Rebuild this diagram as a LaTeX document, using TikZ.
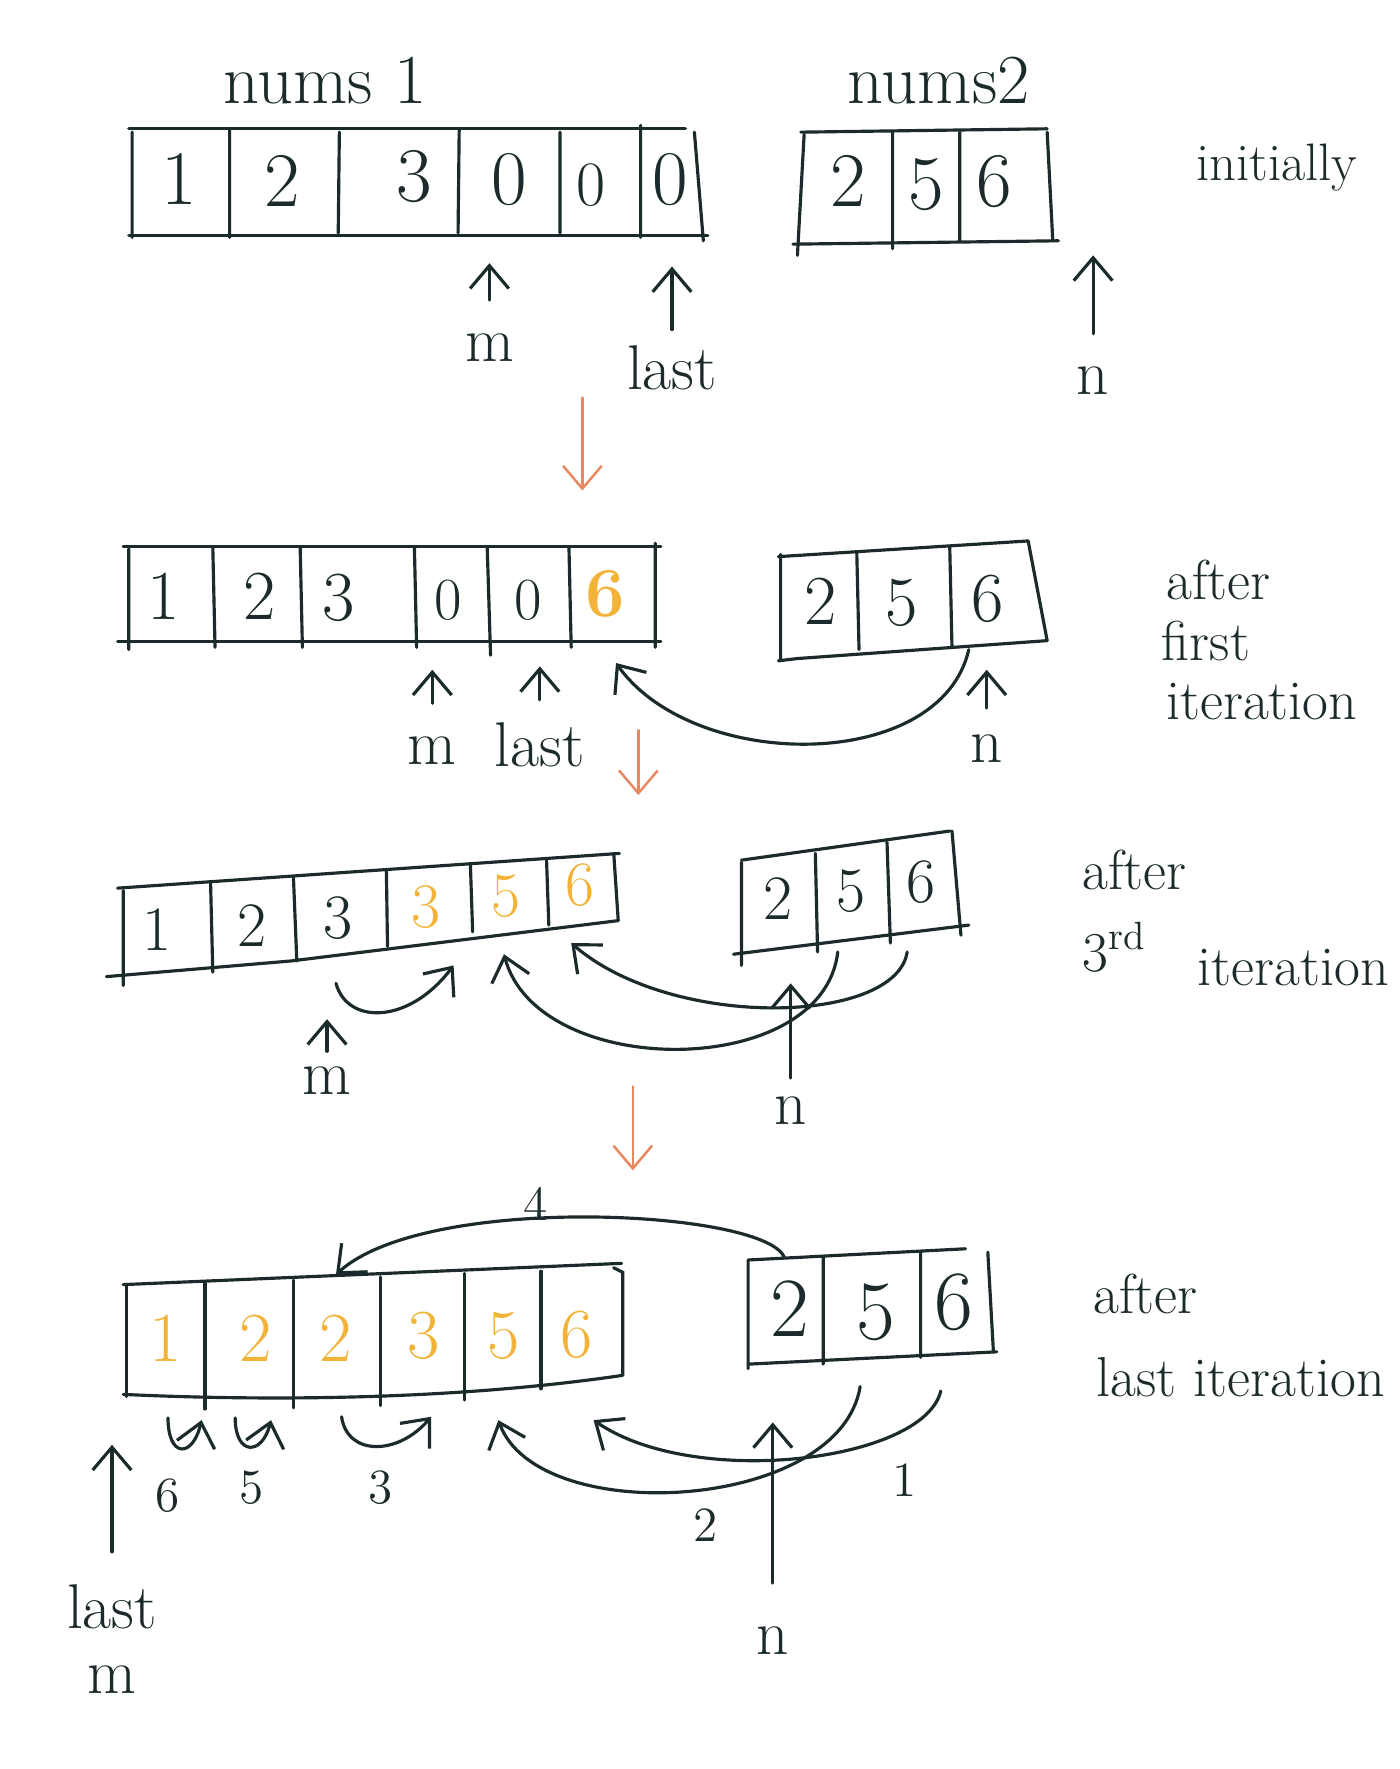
\documentclass[tikz,border=0pt]{standalone}
\usepackage{xcolor}
\usetikzlibrary{arrows.meta}
\definecolor{ink}{HTML}{1B2A2A}
\definecolor{flow}{HTML}{E9875F}
\definecolor{moved}{HTML}{F2B338}

\tikzset{
  digit/.style={font=\fontsize{#1}{#1}\selectfont, inner sep=0pt},
  digit/.default=20,
  newdigit/.style={digit=#1, text=moved},
  newdigit/.default=20,
  head/.style={font=\fontsize{20}{24}\selectfont},
  ptr/.style={font=\fontsize{18}{22}\selectfont, inner sep=1pt},
  note/.style={font=\fontsize{16}{19}\selectfont, anchor=west, inner sep=0pt},
  tally/.style={font=\fontsize{14}{16}\selectfont, inner sep=1pt},
  stagearrow/.style={flow, line width=0.7pt, ->}
}

\begin{document}
\begin{tikzpicture}[>={Straight Barb[length=6.5pt,width=11pt]}, x=0.112mm, y=-0.112mm, ink, line width=0.9pt, line cap=round]
		\fill[white] (0,0) rectangle (1250,1579.5);
		\useasboundingbox (0,0) rectangle (1250,1579.5);

		% ---------- initially ----------
		\node[head] (h1) at (290,72) {nums 1};
		\node[head] (h2) at (838,72) {nums2};
		\node[note, anchor=center, font=\fontsize{15}{18}\selectfont] (t1) at (1140,150) {initially};

		% nums1 box
		\draw (115,115) -- (612,115) (115,210) -- (632,210);
		\draw (118,118) -- (118,212) (205,115) -- (205,212) (303,118) -- (302,208) (410,115) -- (409,208)
		      (500,118) -- (500,208) (572,112) -- (572,212) (620,118) -- (628,215);
		\node[digit=22] (s1a1) at (160,160) {1};
		\node[digit=22] (s1a2) at (252,162) {2};
		\node[digit=22] (s1a3) at (370,158) {3};
		\node[digit=22] (s1a4) at (455,160) {0};
		\node[digit=18] (s1a5) at (528,165) {0};
		\node[digit=22] (s1a6) at (598,160) {0};

		% nums2 box
		\draw (715,118) -- (935,115) (708,218) -- (945,215);
		\draw (718,120) -- (712,228) (797,118) -- (797,222) (857,118) -- (857,215) (935,118) -- (940,215);
		\node[digit=22] (s1b1) at (757,162) {2};
		\node[digit=22] (s1b2) at (827,165) {5};
		\node[digit=22] (s1b3) at (888,162) {6};

		% pointers
		\node[ptr] (m1) at (437,310) {m};
		\coordinate (m1t) at (437,235);
		\draw[->, shorten <=8pt] (m1) -- (m1t);
		\node[ptr] (l1) at (600,328) {last};
		\coordinate (l1t) at (600,238);
		\draw[->, shorten <=3pt] (l1) -- (l1t);
		\node[ptr] (n1) at (976,340) {n};
		\coordinate (n1t) at (976,228);
		\draw[->, shorten <=8pt] (n1) -- (n1t);

		\coordinate (f1a) at (520,355);
		\coordinate (f1b) at (520,438);
		\draw[stagearrow] (f1a) -- (f1b);

		% ---------- after first iteration ----------
		\draw (110,488) -- (590,488) (105,573) -- (590,573);
		\draw (115,490) -- (115,580) (190,488) -- (192,578) (268,488) -- (270,578) (370,488) -- (372,578)
		      (435,488) -- (438,585) (508,488) -- (510,578) (585,485) -- (585,578);
		\node[digit] (s2a1) at (146,532) {1};
		\node[digit] (s2a2) at (232,532) {2};
		\node[digit] (s2a3) at (302,534) {3};
		\node[digit=17] (s2a4) at (400,536) {0};
		\node[digit=17] (s2a5) at (472,536) {0};
		\node[newdigit] (s2a6) at (540,530) {\bfseries 6};

		\draw (695,497) -- (918,483) (695,590) -- (712,588) -- (935,572);
		\draw (697,495) -- (697,590) (765,493) -- (767,580) (848,488) -- (850,578) (918,483) -- (935,572);
		\node[digit] (s2b1) at (733,537) {2};
		\node[digit] (s2b2) at (805,538) {5};
		\node[digit] (s2b3) at (882,535) {6};

		\node[note] (t2a) at (1040,518) {after};
		\node[note] (t2b) at (1036,572) {first};
		\node[note] (t2c) at (1040,626) {iteration};

		\node[ptr] (m2) at (386,670) {m};
		\coordinate (m2t) at (386,598);
		\draw[->, shorten <=8pt] (m2) -- (m2t);
		\node[ptr] (l2) at (482,665) {last};
		\coordinate (l2t) at (482,595);
		\draw[->, shorten <=5pt] (l2) -- (l2t);
		\node[ptr] (n2) at (881,668) {n};
		\coordinate (n2t) at (881,598);
		\draw[->, shorten <=6pt] (n2) -- (n2t);

		% 6 from nums2 to the end of nums1
		\coordinate (c2s) at (865,580);
		\coordinate (c2e) at (550,592);
		\draw[->] (c2s) .. controls (840,690) and (620,690) .. (c2e);

		\coordinate (f2a) at (570,652);
		\coordinate (f2b) at (570,710);
		\draw[stagearrow] (f2a) -- (f2b);

		% ---------- after 3rd iteration ----------
		\draw (105,793) -- (553,762) (95,872) -- (260,858) -- (552,822);
		\draw (110,795) -- (110,880) (188,788) -- (190,868) (262,783) -- (265,858) (345,778) -- (346,845)
		      (420,772) -- (422,832) (488,768) -- (490,826) (548,762) -- (552,822);
		\node[digit=18] (s3a1) at (140,830) {1};
		\node[digit=18] (s3a2) at (225,826) {2};
		\node[digit=18] (s3a3) at (302,820) {3};
		\node[newdigit=18] (s3a4) at (380,810) {3};
		\node[newdigit=18] (s3a5) at (452,800) {5};
		\node[newdigit=18] (s3a6) at (518,790) {6};

		\draw (662,768) -- (848,742) (655,852) -- (865,826);
		\draw (662,770) -- (662,862) (728,762) -- (730,850) (792,752) -- (795,842) (850,742) -- (858,835);
		\node[digit=18] (s3b1) at (695,802) {2};
		\node[digit=18] (s3b2) at (760,796) {5};
		\node[digit=18] (s3b3) at (822,788) {6};

		\node[note] (t3a) at (965,777) {after};
		\node[note] (t3b) at (965,846) {3\textsuperscript{rd}};
		\node[note] (t3c) at (1068,864) {iteration};

		\node[ptr] (m3) at (292,965) {m};
		\coordinate (m3t) at (292,910);
		\draw[->, shorten <=3pt] (m3) -- (m3t);
		\node[ptr] (n3) at (706,992) {n};
		\coordinate (n3t) at (706,878);
		\draw[->, shorten <=4pt] (n3) -- (n3t);

		% moves inside nums1 and from nums2
		\coordinate (c3a) at (300,878);
		\coordinate (c3b) at (405,862);
		\draw[->] (c3a) .. controls (310,915) and (365,915) .. (c3b);
		\coordinate (c3c) at (748,850);
		\coordinate (c3d) at (450,852);
		\draw[->] (c3c) .. controls (735,965) and (480,965) .. (c3d);
		\coordinate (c3e) at (810,850);
		\coordinate (c3f) at (510,842);
		\draw[->] (c3e) .. controls (800,915) and (600,920) .. (c3f);

		\coordinate (f3a) at (565,970);
		\coordinate (f3b) at (565,1045);
		\draw[stagearrow] (f3a) -- (f3b);

		% ---------- after last iteration ----------
		\draw (110,1147) -- (555,1128) (110,1245) .. controls (260,1252) and (420,1248) .. (556,1228);
		\draw (548,1132) -- (556,1136) -- (556,1228);
		\draw (113,1148) -- (113,1247) (183,1146) -- (183,1258) (262,1143) -- (262,1257) (340,1140) -- (340,1255)
		      (415,1137) -- (415,1250) (483,1135) -- (483,1240);
		\node[newdigit] (s4a1) at (148,1195) {1};
		\node[newdigit] (s4a2) at (228,1195) {2};
		\node[newdigit] (s4a3) at (300,1195) {2};
		\node[newdigit] (s4a4) at (378,1193) {3};
		\node[newdigit] (s4a5) at (450,1193) {5};
		\node[newdigit] (s4a6) at (515,1192) {6};

		\draw (668,1125) -- (862,1115) (668,1218) -- (890,1207);
		\draw (668,1125) -- (668,1222) (735,1122) -- (735,1218) (822,1118) -- (822,1212) (882,1118) -- (887,1207);
		\node[digit=24] (s4b1) at (705,1168) {2};
		\node[digit=24] (s4b2) at (782,1172) {5};
		\node[digit=24] (s4b3) at (852,1163) {6};

		\node[note] (t4a) at (975,1155) {after};
		\node[note] (t4b) at (978,1230) {last iteration};

		% numbered moves
		\coordinate (c4a) at (700,1122);
		\coordinate (c4b) at (300,1138);
		\draw[->] (c4a) .. controls (680,1080) and (380,1065) .. (c4b);
		\node[tally] (k4) at (478,1075) {4};

		\coordinate (c4c) at (840,1242);
		\coordinate (c4d) at (530,1268);
		\draw[->] (c4c) .. controls (825,1305) and (620,1330) .. (c4d);
		\node[tally] (k1) at (808,1322) {1};

		\coordinate (c4e) at (768,1238);
		\coordinate (c4f) at (445,1268);
		\draw[->] (c4e) .. controls (750,1350) and (480,1365) .. (c4f);
		\node[tally] (k2) at (630,1362) {2};

		\coordinate (c4g) at (305,1265);
		\coordinate (c4h) at (385,1265);
		\draw[->] (c4g) .. controls (310,1300) and (355,1300) .. (c4h);
		\node[tally] (k3) at (340,1328) {3};

		\coordinate (c4i) at (210,1266);
		\coordinate (c4j) at (242,1268);
		\draw[->] (c4i) .. controls (210,1300) and (234,1300) .. (c4j);
		\node[tally] (k5) at (225,1328) {5};

		\coordinate (c4k) at (150,1266);
		\coordinate (c4l) at (180,1268);
		\draw[->] (c4k) .. controls (150,1302) and (172,1302) .. (c4l);
		\node[tally] (k6) at (150,1335) {6};

		% pointers
		\node[ptr] (l4) at (100,1435) {last};
		\node[ptr] (m4) at (100,1500) {m};
		\coordinate (l4t) at (100,1290);
		\draw[->, shorten <=8pt] (l4) -- (l4t);
		\node[ptr] (n4) at (690,1465) {n};
		\coordinate (n4t) at (690,1270);
		\draw[->, shorten <=11pt] (n4) -- (n4t);
	\end{tikzpicture}
\end{document}
